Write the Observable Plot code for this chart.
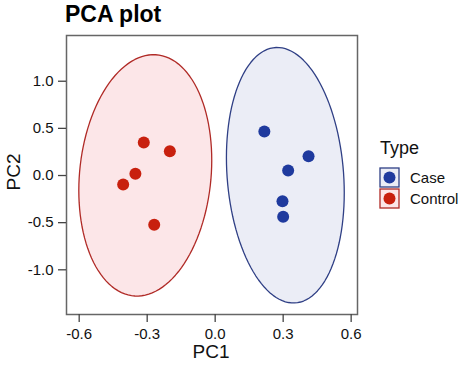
<!DOCTYPE html>
<html>
<head>
<meta charset="utf-8">
<script src="https://cdn.jsdelivr.net/npm/d3@7"></script>
<script src="https://cdn.jsdelivr.net/npm/@observablehq/plot@0.6"></script>
<style>
  body { margin: 0; background: #fff; font-family: "Liberation Sans", Arial, sans-serif; }
  #wrap { position: relative; width: 474px; height: 367px; overflow: hidden; }
  .abs { position: absolute; white-space: nowrap; color: #111; }
</style>
</head>
<body>
<div id="wrap"></div>
<script>
// ---- data ----
const groups = ["Case", "Control"];
const caseX = [0.217, 0.412, 0.322, 0.297, 0.300];
const caseY = [0.467, 0.205, 0.053, -0.272, -0.438];
const controlX = [-0.315, -0.200, -0.352, -0.406, -0.269];
const controlY = [0.350, 0.258, 0.018, -0.095, -0.523];
const xTicks = [-0.6, -0.3, 0.0, 0.3, 0.6];
const yTicks = [-1.0, -0.5, 0.0, 0.5, 1.0];
const pointColors = {Case: "#1f3a9e", Control: "#c8200e"};
const ellipseStroke = {Case: "#2f3f85", Control: "#b02a26"};
const ellipseFill = {Case: "#ebedf6", Control: "#fce6e8"};

const points = [];
caseX.forEach((x, i) => points.push({type: "Case", x, y: caseY[i]}));
controlX.forEach((x, i) => points.push({type: "Control", x, y: controlY[i]}));

// 95% normal data ellipse (like ggplot2 stat_ellipse type="norm")
function ellipse(xs, ys, type, level = 0.95, segments = 120) {
  const n = xs.length;
  const mx = d3.mean(xs), my = d3.mean(ys);
  let sxx = 0, syy = 0, sxy = 0;
  for (let i = 0; i < n; i++) {
    sxx += (xs[i] - mx) ** 2; syy += (ys[i] - my) ** 2; sxy += (xs[i] - mx) * (ys[i] - my);
  }
  sxx /= n - 1; syy /= n - 1; sxy /= n - 1;
  const a = Math.sqrt(sxx), b = sxy / a, c = Math.sqrt(syy - b * b);
  const dfd = n - 1;
  const q = (dfd / 2) * (Math.pow(1 - level, -2 / dfd) - 1); // qf(level, 2, dfd)
  const r = Math.sqrt(2 * q);
  const out = [];
  for (let k = 0; k <= segments; k++) {
    const t = 2 * Math.PI * k / segments;
    const u = Math.cos(t), v = Math.sin(t);
    out.push({type, x: mx + r * u * a, y: my + r * (u * b + v * c)});
  }
  return out;
}
const ellCase = ellipse(caseX, caseY, "Case");
const ellControl = ellipse(controlX, controlY, "Control");

const fmt = d => d.toFixed(1);

const plot = Plot.plot({
  width: 474,
  height: 367,
  marginLeft: 66,
  marginRight: 117,
  marginTop: 35,
  marginBottom: 53,
  style: {fontFamily: "Liberation Sans, Arial, sans-serif", fontSize: "15px", color: "#111", background: "#fff"},
  x: {domain: [-0.656, 0.628]},
  y: {domain: [-1.474, 1.485]},
  marks: [
    Plot.line(ellControl, {x: "x", y: "y", fill: ellipseFill.Control, stroke: ellipseStroke.Control, strokeWidth: 1.3, curve: "linear"}),
    Plot.line(ellCase, {x: "x", y: "y", fill: ellipseFill.Case, stroke: ellipseStroke.Case, strokeWidth: 1.3, curve: "linear"}),
    Plot.dot(points, {x: "x", y: "y", r: 6, fill: d => pointColors[d.type], stroke: null}),
    Plot.frame({stroke: "#666", strokeWidth: 1.5}),
    Plot.axisX({ticks: xTicks, tickFormat: fmt, tickSize: 8, tickPadding: 6, label: null, stroke: "#444", strokeWidth: 1.3, fontSize: 15}),
    Plot.axisY({ticks: yTicks, tickFormat: fmt, tickSize: 8, tickPadding: 5, label: null, stroke: "#444", strokeWidth: 1.3, fontSize: 15})
  ]
});

const wrap = document.getElementById("wrap");
wrap.appendChild(plot);

function addText(txt, css) {
  const d = document.createElement("div");
  d.className = "abs";
  d.textContent = txt;
  Object.assign(d.style, css);
  wrap.appendChild(d);
  return d;
}
addText("PCA plot", {left: "65px", top: "1px", fontSize: "23px", fontWeight: "bold", color: "#000"});
addText("PC1", {left: "211px", top: "341px", fontSize: "19px", transform: "translateX(-50%)"});
addText("PC2", {left: "14px", top: "172px", fontSize: "19px", transform: "translate(-50%,-50%) rotate(-90deg)"});

// legend
addText("Type", {left: "380px", top: "138px", fontSize: "18px"});
const legendSvgNS = "http://www.w3.org/2000/svg";
const leg = document.createElementNS(legendSvgNS, "svg");
leg.setAttribute("width", 22); leg.setAttribute("height", 44);
leg.style.position = "absolute"; leg.style.left = "379px"; leg.style.top = "167px";
groups.forEach((g, i) => {
  const rect = document.createElementNS(legendSvgNS, "rect");
  rect.setAttribute("x", 1); rect.setAttribute("y", 1 + i * 21);
  rect.setAttribute("width", 19); rect.setAttribute("height", 19);
  rect.setAttribute("fill", ellipseFill[g]); rect.setAttribute("stroke", ellipseStroke[g]); rect.setAttribute("stroke-width", 1.3);
  leg.appendChild(rect);
  const c = document.createElementNS(legendSvgNS, "circle");
  c.setAttribute("cx", 10.5); c.setAttribute("cy", 10.5 + i * 21); c.setAttribute("r", 6);
  c.setAttribute("fill", pointColors[g]);
  leg.appendChild(c);
  addText(g, {left: "410px", top: (169 + i * 21) + "px", fontSize: "15px"});
});
wrap.appendChild(leg);
</script>
</body>
</html>
